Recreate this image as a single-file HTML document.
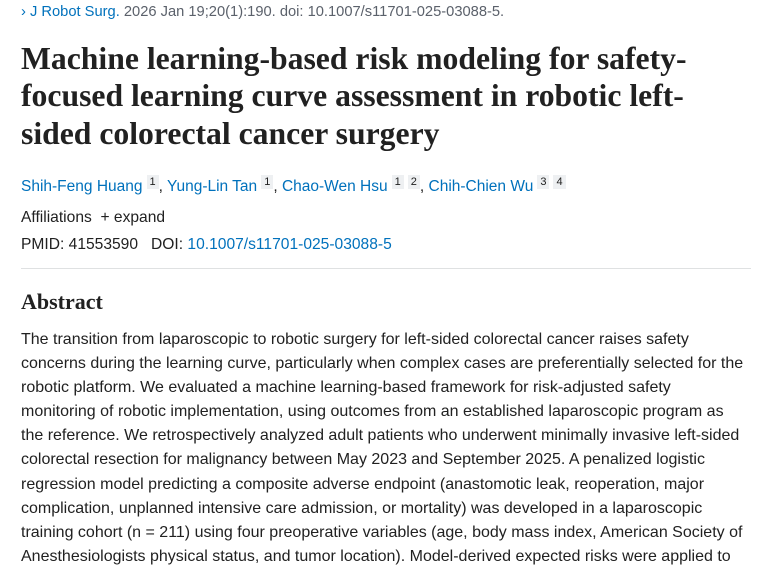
<!DOCTYPE html>
<html><head><meta charset="utf-8"><style>
body{margin:0;width:760px;height:570px;overflow:hidden;background:#fff;font-family:"Liberation Sans",sans-serif;color:#212121}
.w{position:absolute;left:21px;width:740px;white-space:nowrap}
a{color:#0071bc;text-decoration:none}
.cit{top:2px;font-size:14.7px;line-height:20px;color:#5b616b}
.t{position:absolute;left:21px;margin:0;font-family:"Liberation Serif",serif;font-weight:bold;font-size:32px;line-height:37.5px;color:#212121;white-space:nowrap;transform-origin:0 0;transform:scaleX(0.99)}
.au{top:172px;font-size:15.5px;line-height:20px}
sup{font-size:11px;background:#eef0f2;color:#212121;padding:1px 3px;margin-left:4px}
.af{top:208px;font-size:15.6px;line-height:20px}
.pm{top:235px;font-size:15.6px;line-height:20px}
h2{position:absolute;left:21px;top:289px;margin:0;font-family:"Liberation Serif",serif;font-size:22px;font-weight:bold;color:#212121}
hr{position:absolute;left:21px;top:268px;width:730px;border:0;border-top:1px solid #dfe1e2;margin:0}
.ab{top:328px;font-size:16px;line-height:24.1px}
</style></head><body>
<div class="w cit"><a>› J Robot Surg.</a> 2026 Jan 19;20(1):190. doi: 10.1007/s11701-025-03088-5.</div>
<div class="t" style="top:40px">Machine learning-based risk modeling for safety-</div>
<div class="t" style="top:77px">focused learning curve assessment in robotic left-</div>
<div class="t" style="top:115px">sided colorectal cancer surgery</div>
<div class="w au"><a>Shih-Feng Huang</a><sup>1</sup>, <a>Yung-Lin Tan</a><sup>1</sup>, <a>Chao-Wen Hsu</a><sup>1</sup><sup>2</sup>, <a>Chih-Chien Wu</a><sup>3</sup><sup>4</sup></div>
<div class="w af">Affiliations &nbsp;+ expand</div>
<div class="w pm">PMID: 41553590 &nbsp;&nbsp;DOI: <a>10.1007/s11701-025-03088-5</a></div>
<hr>
<h2>Abstract</h2>
<div class="w ab">The transition from laparoscopic to robotic surgery for left-sided colorectal cancer raises safety<br>concerns during the learning curve, particularly when complex cases are preferentially selected for the<br>robotic platform. We evaluated a machine learning-based framework for risk-adjusted safety<br>monitoring of robotic implementation, using outcomes from an established laparoscopic program as<br>the reference. We retrospectively analyzed adult patients who underwent minimally invasive left-sided<br>colorectal resection for malignancy between May 2023 and September 2025. A penalized logistic<br>regression model predicting a composite adverse endpoint (anastomotic leak, reoperation, major<br>complication, unplanned intensive care admission, or mortality) was developed in a laparoscopic<br>training cohort (n = 211) using four preoperative variables (age, body mass index, American Society of<br>Anesthesiologists physical status, and tumor location). Model-derived expected risks were applied to</div>
</body></html>
